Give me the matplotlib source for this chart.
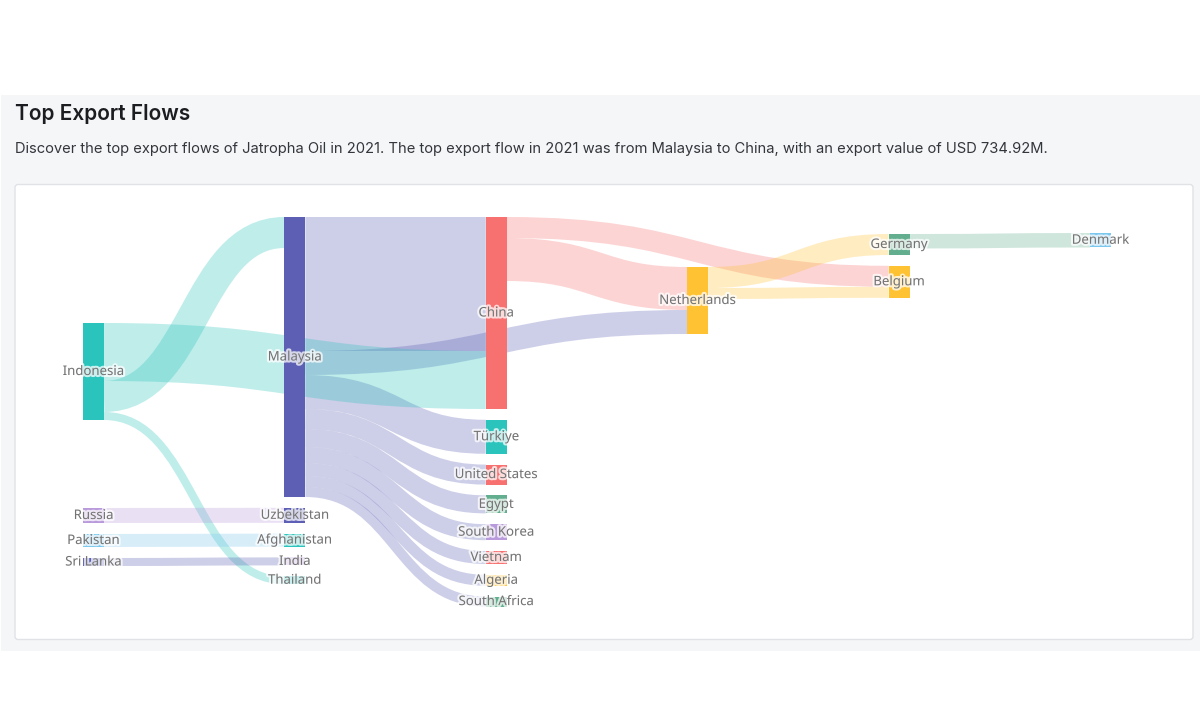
import matplotlib.pyplot as plt
from matplotlib.patches import PathPatch, Rectangle, FancyBboxPatch
from matplotlib.path import Path
import matplotlib.patheffects as pe

# export flows in USD M, listed in the order they stack on each node
sources = ['China', 'China',
           'Malaysia', 'Malaysia', 'Malaysia', 'Malaysia', 'Malaysia', 'Malaysia', 'Malaysia', 'Malaysia', 'Malaysia',
           'Indonesia', 'Indonesia', 'Indonesia', 'Netherlands', 'Netherlands', 'Germany',
           'Russia', 'Pakistan', 'Sri Lanka']
targets = ['Belgium', 'Netherlands',
           'China', 'Netherlands', 'Türkiye', 'United States', 'Egypt', 'South Korea', 'Vietnam', 'Algeria', 'South Africa',
           'China', 'Malaysia', 'Thailand', 'Germany', 'Belgium', 'Denmark',
           'Uzbekistan', 'Afghanistan', 'India']
values = [115.2, 235.8,
          734.92, 131.6, 186.5, 109.7, 98.7, 87.8, 71.3, 60.3, 54.8,
          318.0, 170.0, 44.0, 115.2, 60.3, 79.5,
          82.3, 71.3, 43.9]

# layout: column of each node and where each column group starts
columns = [
    ['Indonesia', 'Russia', 'Pakistan', 'Sri Lanka'],
    ['Malaysia', 'Uzbekistan', 'Afghanistan', 'India', 'Thailand'],
    ['China', 'Türkiye', 'United States', 'Egypt', 'South Korea', 'Vietnam', 'Algeria', 'South Africa'],
    ['Netherlands'],
    ['Germany', 'Belgium'],
    ['Denmark'],
]
tops = {'Indonesia': 323, 'Russia': 508, 'Pakistan': 534, 'Sri Lanka': 558, 'Malaysia': 217, 'China': 217,
        'Netherlands': 267, 'Germany': 234, 'Denmark': 233}
GAP = 10.8
NODE_W = 21
COL_X0 = 83
COL_STEP = 201.4
PX_PER_M = 134 / 734.92

TEAL = '#2AC4BC'
INDIGO = '#5C5FB4'
RED = '#F87171'
GREEN = '#62AE8E'
PURPLE = '#B99BDC'
BLUE = '#7CC7EE'
YELLOW = '#FFC233'
node_colors = {'Indonesia': TEAL, 'Russia': PURPLE, 'Pakistan': BLUE, 'Sri Lanka': INDIGO,
               'Malaysia': INDIGO, 'Uzbekistan': INDIGO, 'Afghanistan': TEAL, 'India': PURPLE, 'Thailand': TEAL,
               'China': RED, 'Türkiye': TEAL, 'United States': RED, 'Egypt': GREEN, 'South Korea': PURPLE,
               'Vietnam': RED, 'Algeria': YELLOW, 'South Africa': GREEN,
               'Netherlands': YELLOW, 'Germany': GREEN, 'Belgium': YELLOW, 'Denmark': BLUE}

fig = plt.figure(figsize=(12, 7.01), dpi=100)
ax = fig.add_axes([0, 0, 1, 1])
ax.set_xlim(0, 1200)
ax.set_ylim(701, 0)
ax.axis('off')

# page panel and card
ax.add_patch(Rectangle((1, 95), 1199, 556, fc='#F5F6F8', ec='none', zorder=0))
ax.add_patch(FancyBboxPatch((15, 184.5), 1178, 455, boxstyle='round,pad=0,rounding_size=3',
                            fc='white', ec='#E0E2E5', lw=1, zorder=1))
ax.text(15, 119.5, 'Top Export Flows', family='Inter', fontsize=15, fontweight='semibold',
        color='#1B1D21', va='baseline')
ax.text(15, 152.5, 'Discover the top export flows of Jatropha Oil in 2021. The top export flow in 2021 was from '
        'Malaysia to China, with an export value of USD 734.92M.', family='Inter', fontsize=10.61,
        color='#33363B', va='baseline')

# node sizes from the flows
in_sum = {}
out_sum = {}
for s, t, v in zip(sources, targets, values):
    out_sum[s] = out_sum.get(s, 0) + v
    in_sum[t] = in_sum.get(t, 0) + v

node_x = {}
node_y = {}
node_h = {}
for i, col in enumerate(columns):
    y = None
    for name in col:
        h = max(in_sum.get(name, 0), out_sum.get(name, 0)) * PX_PER_M
        y = tops[name] if name in tops else y + GAP
        node_x[name] = COL_X0 + i * COL_STEP
        node_y[name] = y
        node_h[name] = h
        y += h

# links are stroked centre lines, so the band keeps its width along the curve
out_pos = dict(node_y)
in_pos = dict(node_y)
for s, t, v in zip(sources, targets, values):
    w = v * PX_PER_M
    x0 = node_x[s] + NODE_W
    x1 = node_x[t]
    xm = (x0 + x1) / 2
    y0 = out_pos[s] + w / 2
    y1 = in_pos[t] + w / 2
    out_pos[s] += w
    in_pos[t] += w
    verts = [(x0, y0), (xm, y0), (xm, y1), (x1, y1)]
    codes = [Path.MOVETO, Path.CURVE4, Path.CURVE4, Path.CURVE4]
    ax.add_patch(PathPatch(Path(verts, codes), fc='none', ec=node_colors[s], lw=w * 72 / 100,
                           capstyle='butt', alpha=0.3, zorder=2))

# nodes and labels
for name in node_x:
    ax.add_patch(Rectangle((node_x[name], node_y[name]), NODE_W, node_h[name],
                           fc=node_colors[name], ec='none', zorder=3))
    ax.text(node_x[name] + NODE_W / 2, node_y[name] + node_h[name] / 2 + 3.5, name,
            family='Noto Sans', fontsize=9.5, color='#737373', ha='center', va='baseline', zorder=4,
            path_effects=[pe.withStroke(linewidth=3, foreground='white', alpha=0.75)])

fig.savefig('out.png', dpi=100)
